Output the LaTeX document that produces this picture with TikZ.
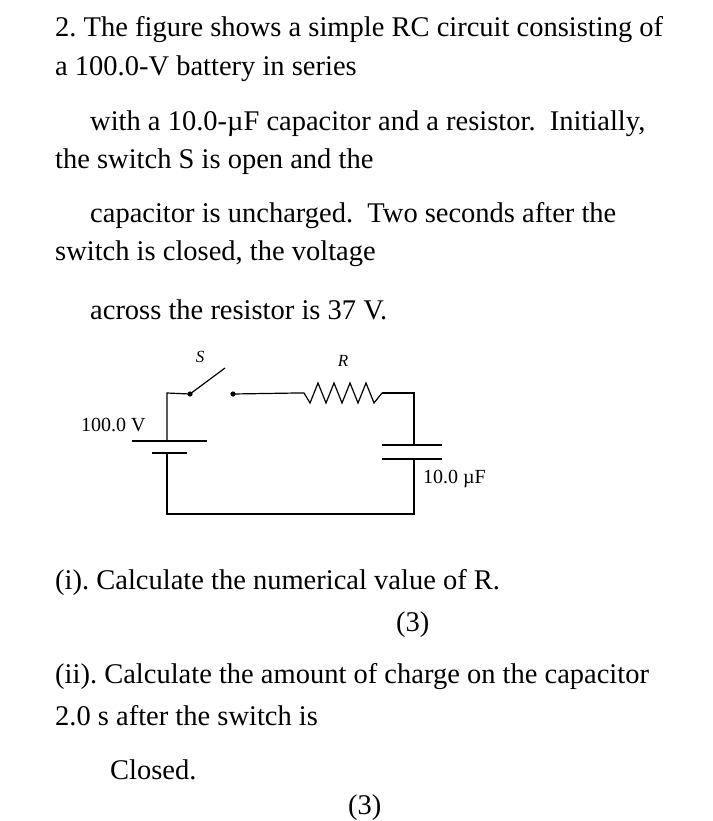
\documentclass[tikz,border=0pt]{standalone}
\usepackage{fontspec}
\setmainfont{Liberation Serif}
\frenchspacing
\begin{document}
\begin{tikzpicture}[x=1pt,y=-1pt,
  txt/.style={anchor=west,inner sep=0pt,font=\fontsize{28.5}{32}\selectfont},
  lbl/.style={inner sep=0pt,font=\fontsize{20}{22}\selectfont},
  wire/.style={line width=1.2pt}]
\useasboundingbox (0,0) rectangle (712,821);
\node[txt] (t1) at (55,30) {2. The figure shows a simple RC circuit consisting of};
\node[txt] (t2) at (55,69) {a 100.0-V battery in series};
\node[txt] (t3) at (90,124) {with a 10.0-\textmu F capacitor and a resistor.\ \ Initially,};
\node[txt] (t4) at (55,162) {the switch S is open and the};
\node[txt] (t5) at (90,216) {capacitor is uncharged.\ \ Two seconds after the};
\node[txt] (t6) at (55,254) {switch is closed, the voltage};
\node[txt] (t7) at (90,310) {across the resistor is 37 V.};
\node[txt] (q1) at (55,582) {(i). Calculate the numerical value of R.};
\node[txt] (q1m) at (396,625) {(3)};
\node[txt] (q2) at (55,677) {(ii). Calculate the amount of charge on the capacitor};
\node[txt] (q2b) at (55,716) {2.0 s after the switch is};
\node[txt] (q2c) at (110,770) {Closed.};
\node[txt] (q2m) at (348,808) {(3)};
% circuit
\coordinate (piv) at (190,394);
\coordinate (sw) at (225,368);
\coordinate (ct) at (233,394);
\coordinate (r0) at (297,393);
\coordinate (r1) at (382,393);
\coordinate (tr) at (414,393);
\coordinate (tl) at (167,393);
\coordinate (bl) at (167,514);
\coordinate (br) at (414,514);
\draw[wire] (piv) -- (tl) -- (167,441);
\draw[wire] (167,453) -- (bl) -- (br) -- (414,459);
\draw[wire] (414,445) -- (tr) -- (r1);
\draw[wire] (132,441) -- (207,441);
\draw[line width=2.6pt] (152,453) -- (187,453);
\draw[line width=2.4pt] (382,445) -- (442,445);
\draw[line width=2.4pt] (382,459) -- (442,459);
\draw[wire] (piv) -- (sw);
\fill (piv) circle (2.6);
\fill (ct) circle (2.6);
\draw[wire] (ct) -- (r0) -- (304,393) -- (310,403) -- (318,383) -- (326,403) -- (334,383) -- (342,403) -- (350,383) -- (358,403) -- (366,383) -- (374,403) -- (r1);
\node[lbl,font=\fontsize{17}{18}\selectfont\itshape] (S) at (200,357) {S};
\node[lbl,font=\fontsize{17}{18}\selectfont\itshape] (R) at (343,361) {R};
\node[lbl,anchor=west] (V) at (81,425) {100.0 V};
\node[lbl,anchor=west] (C) at (423,479) {10.0 \textmu F};
\end{tikzpicture}
\end{document}
